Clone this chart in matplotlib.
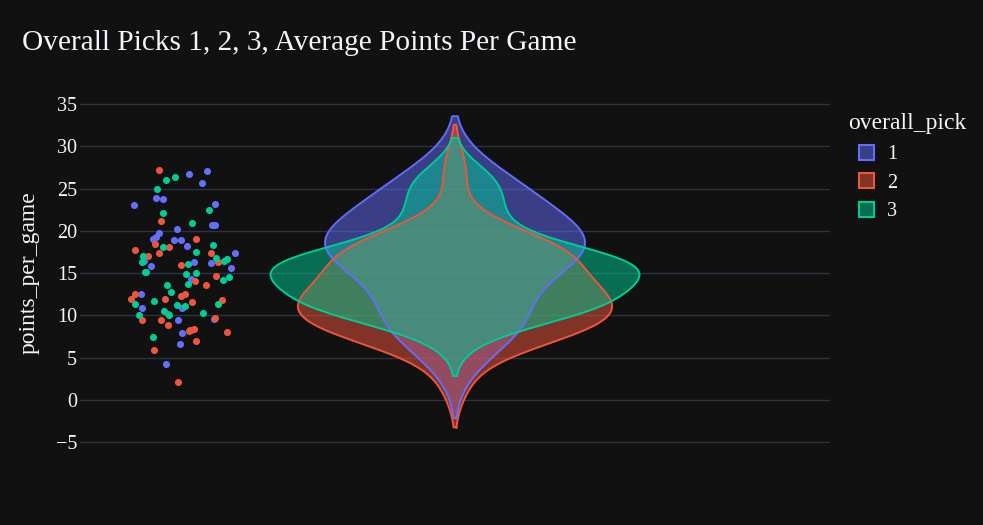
import numpy as np
import matplotlib
matplotlib.use("Agg")
import matplotlib.pyplot as plt
from matplotlib.patches import Patch

# points per game, one list per overall pick
picks = ["1", "2", "3"]
ppg_pick1 = [26.7, 27.1, 25.7, 23.9, 23.8, 23.2, 23.1, 20.7, 20.7, 20.2, 19.7, 19.3,
             19.0, 18.9, 18.9, 18.2, 17.4, 16.2, 16.3, 15.6, 15.8, 16.4, 14.3, 12.5,
             10.9, 10.9, 9.5, 9.6, 8.3, 7.9, 6.6, 4.3]
ppg_pick2 = [27.2, 21.2, 19.0, 18.4, 18.1, 17.7, 17.4, 17.0, 17.4, 16.3, 16.0, 14.7,
             14.1, 13.6, 12.5, 12.5, 12.3, 11.8, 11.9, 11.6, 11.9, 10.2, 9.5, 9.5,
             9.7, 8.9, 8.0, 8.2, 8.3, 8.4, 7.0, 5.9, 2.1]
ppg_pick3 = [26.0, 26.4, 24.9, 22.5, 22.1, 20.9, 18.1, 18.3, 17.5, 17.0, 16.8, 16.7,
             16.4, 16.1, 16.3, 15.1, 14.5, 14.9, 15.1, 14.2, 15.0, 13.7, 13.6, 12.8,
             11.7, 11.4, 11.4, 11.2, 11.1, 10.5, 10.3, 10.1, 10.1, 7.4]
y_ticks = [-5, 0, 5, 10, 15, 20, 25, 30, 35]

colors = ["#636efa", "#EF553B", "#00cc96"]
BG = "#111111"
GRID = "#283442"
TXT = "#f2f5fa"

plt.rcParams["font.family"] = ["Liberation Serif", "DejaVu Serif"]


def silverman_kde(vals):
    vals = np.asarray(vals, dtype=float)
    n = len(vals)
    sd = vals.std(ddof=1)
    q1, q3 = np.percentile(vals, [25, 75])
    bw = 1.059 * min(sd, (q3 - q1) / 1.349) * n ** -0.2
    ys = np.linspace(vals.min() - 2 * bw, vals.max() + 2 * bw, 300)
    dens = np.exp(-0.5 * ((ys[:, None] - vals[None, :]) / bw) ** 2).sum(axis=1)
    dens /= n * bw * np.sqrt(2 * np.pi)
    return ys, dens, bw


fig = plt.figure(figsize=(9.83, 5.25), dpi=100, facecolor=BG)
ax = fig.add_axes([80 / 983, 80 / 525, 750 / 983, 345 / 525], facecolor=BG)

groups = [ppg_pick1, ppg_pick2, ppg_pick3]
kdes = [silverman_kde(g) for g in groups]
peak = max(d.max() for _, d, _ in kdes)
half_width = 0.246
pts_center = -0.366
rng = np.random.default_rng(7)

for vals, (ys, dens, bw), col, name in zip(groups, kdes, colors, picks):
    w = dens / peak * half_width
    ax.fill_betweenx(ys, -w, w, color=col, alpha=0.5, lw=0, zorder=2)
    ax.plot(np.r_[w, -w[::-1], w[:1]], np.r_[ys, ys[::-1], ys[:1]],
            color=col, lw=1.4, zorder=3)

for vals, (ys, dens, bw), col in zip(groups, kdes, colors):
    vals = np.asarray(vals)
    d_at = np.interp(vals, ys, dens) / peak
    jit = rng.uniform(-1, 1, len(vals)) * 0.075 * (0.35 + 0.65 * d_at / d_at.max())
    ax.scatter(pts_center + jit, vals, s=26, color=col, lw=0, zorder=4)

ax.set_xlim(-0.5, 0.5)
ax.set_ylim(-5.32, 35.47)
ax.set_yticks(y_ticks)
ax.set_xticks([])
ax.grid(axis="y", color=GRID, lw=1)
ax.set_axisbelow(True)
ax.tick_params(axis="y", length=0, pad=2, labelsize=14.5, labelcolor=TXT)
for s in ax.spines.values():
    s.set_visible(False)

ax.set_ylabel("points_per_game", color=TXT, fontsize=17, labelpad=12)
fig.text(22 / 983, 1 - 43 / 525, "Overall Picks 1, 2, 3, Average Points Per Game",
         color=TXT, fontsize=21.2, va="center", ha="left")

# legend: title as its own text so the swatches can sit indented under it
fig.text(848 / 983, 1 - 124 / 525, "overall_pick", color=TXT, fontsize=17,
         va="center", ha="left")
handles = [Patch(facecolor=c + "80", edgecolor=c, lw=1.5) for c in colors]
leg = fig.legend(handles, picks, loc="upper left",
                 bbox_to_anchor=(855 / 983, 1 - 141 / 525), frameon=False,
                 fontsize=14.5, handlelength=0.75, handleheight=0.75,
                 handletextpad=0.65, labelspacing=0.45, borderpad=0.2,
                 borderaxespad=0)
for t in leg.get_texts():
    t.set_color(TXT)

fig.savefig("out.png", dpi=100, facecolor=BG)
